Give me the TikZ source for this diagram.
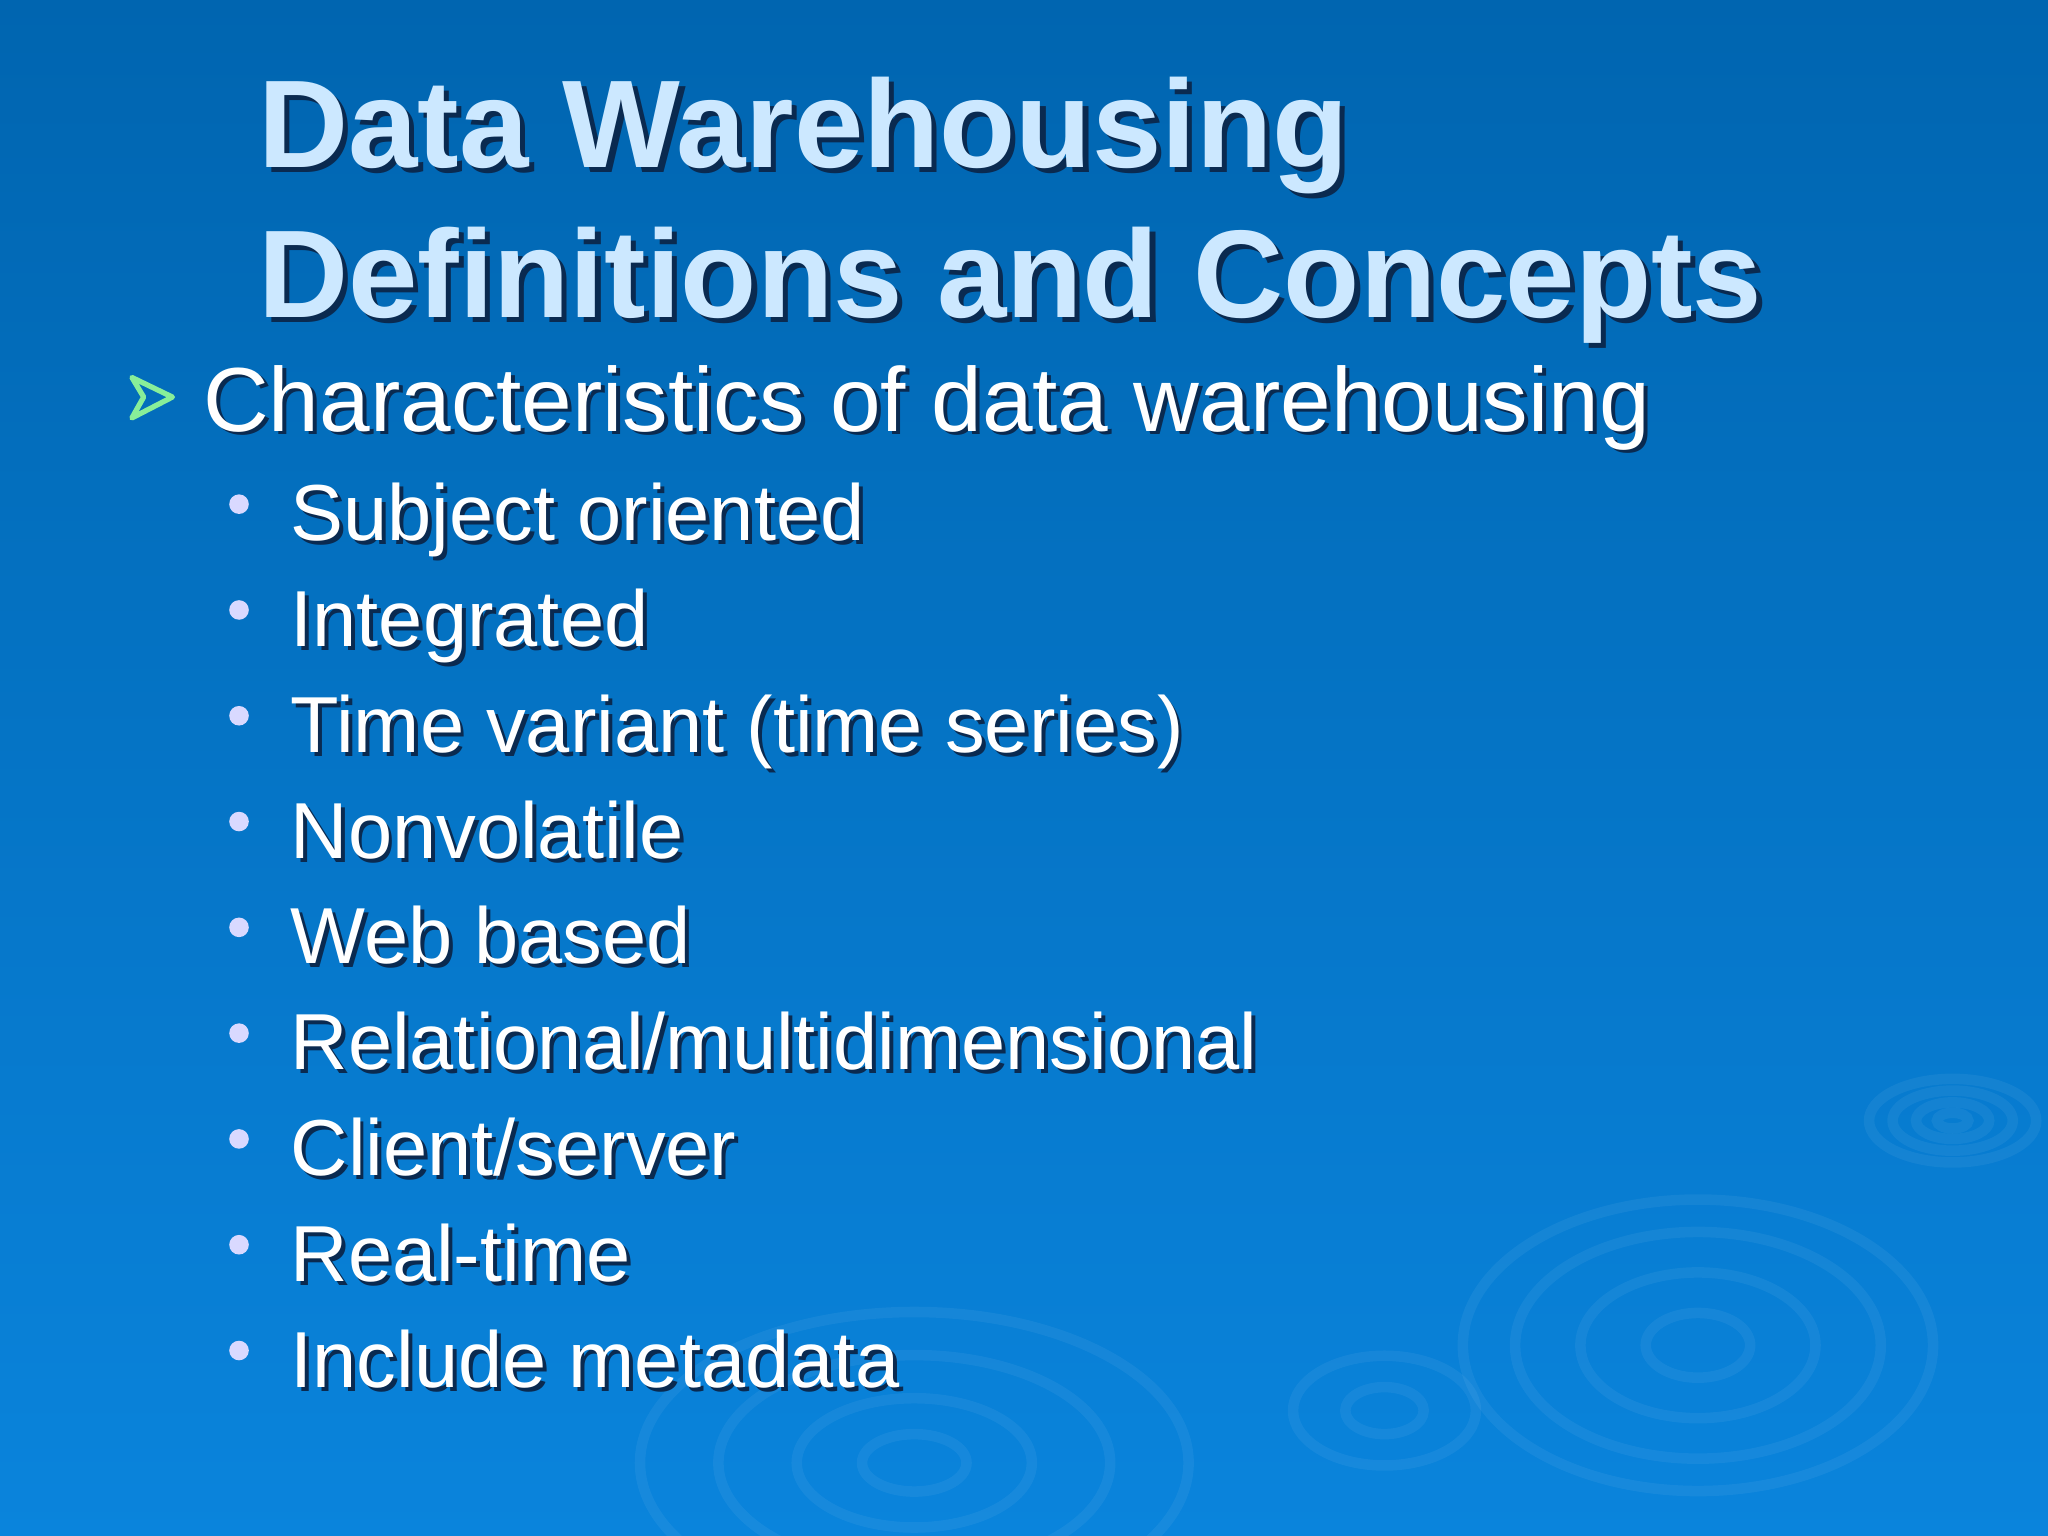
\documentclass[tikz,border=0pt]{standalone}
\usepackage{fontspec}
\setmainfont{Liberation Sans}
\begin{document}
\begin{tikzpicture}[x=0.01306cm,y=-0.01306cm,
  ttl/.style={font=\bfseries\fontsize{35.5}{40}\selectfont,anchor=base west,inner sep=0},
  lone/.style={font=\fontsize{25.9}{30}\selectfont,anchor=base west,inner sep=0},
  ltwo/.style={font=\fontsize{22.6}{25}\selectfont,anchor=base west,inner sep=0},
  ring/.style={draw=white,opacity=0.055,line width=3pt}]
\definecolor{bgtop}{HTML}{0065B0}
\definecolor{bgbot}{HTML}{0A84DC}
\definecolor{ttlc}{HTML}{CCE8FF}
\definecolor{shad}{HTML}{0A2A50}
\definecolor{grn}{HTML}{88EE99}
\shade[top color=bgtop,bottom color=bgbot] (0,0) rectangle (1568,1176);
\useasboundingbox (0,0) rectangle (1568,1176);
% ripples
\foreach \r in {40,90,140,180}{\draw[ring] (1300,1030) ellipse ({\r*1.0} and {\r*0.62});}
\foreach \r in {12,28,46,64}{\draw[ring] (1495,858) ellipse ({\r} and {\r*0.5});}
\foreach \r in {40,90,150,210}{\draw[ring] (700,1120) ellipse ({\r} and {\r*0.55});}
\foreach \r in {30,70}{\draw[ring] (1060,1080) ellipse ({\r} and {\r*0.6});}
% title
\foreach \t/\y/\n in {Data Warehousing/128/a,Definitions and Concepts/243/b}{
  \node[ttl,text=shad] (s\n) at (201,\y+4) {\t};
  \node[ttl,text=ttlc] (t\n) at (197,\y) {\t};}
% level 1
\node[inner sep=0,minimum size=0] (arr) at (116,304) {};
\draw[grn,line width=1.5pt,line join=round] (101,289) -- (132,304) -- (101,320) -- (110,304) -- cycle;
\node[lone,text=shad] (l1s) at (158,333) {Characteristics of data warehousing};
\node[lone,text=white] (l1) at (155,330) {Characteristics of data warehousing};
% level 2
\foreach \t [count=\i] in {Subject oriented,Integrated,Time variant (time series),Nonvolatile,Web based,Relational/multidimensional,Client/server,Real-time,Include metadata}{
  \pgfmathsetmacro\yy{414+81*(\i-1)}
  \fill[white!85!blue] (183,\yy-28) circle (7.5);
  \node[ltwo,text=shad] (b\i s) at (225,\yy+3) {\t};
  \node[ltwo,text=white] (b\i) at (222,\yy) {\t};}
\end{tikzpicture}
\end{document}
